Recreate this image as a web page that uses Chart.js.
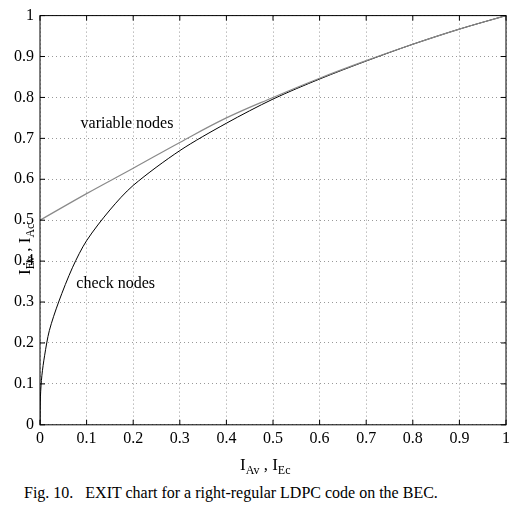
<!DOCTYPE html>
<html>
<head>
<meta charset="utf-8">
<script src="https://cdn.jsdelivr.net/npm/chart.js@4"></script>
<style>
  body { margin: 0; background: #fff; font-family: "Liberation Serif", serif; }
  #wrap { position: relative; width: 516px; height: 478px; }
  #cap { position: absolute; left: 24px; top: 484px; font-size: 16px; }
</style>
</head>
<body>
<div id="wrap"><canvas id="exit"></canvas></div>
<div id="cap">Fig. 10.&nbsp;&nbsp;&nbsp;EXIT chart for a right-regular LDPC code on the BEC.</div>
<script>
// values
const varX = [0, 0.1, 0.2, 0.3, 0.4, 0.5, 0.6, 0.7, 0.8, 0.9, 1];
const varY = [0.5, 0.565, 0.627, 0.69, 0.75, 0.8, 0.847, 0.89, 0.93, 0.967, 1];
const chkX = [0, 0.001, 0.004, 0.01, 0.02, 0.04, 0.07, 0.1, 0.15, 0.2, 0.3, 0.4, 0.5, 0.6, 0.7, 0.8, 0.9, 1];
const chkY = [0, 0.07, 0.12, 0.17, 0.23, 0.3, 0.385, 0.45, 0.525, 0.585, 0.67, 0.737, 0.796, 0.845, 0.889, 0.93, 0.967, 1];
const ticks = [0, 0.1, 0.2, 0.3, 0.4, 0.5, 0.6, 0.7, 0.8, 0.9, 1];

const FAM = "'Liberation Serif', serif";
const font = { family: FAM, size: 16 };

// frame, inner ticks, axis titles with subscripts and the curve labels
const decor = {
  id: 'decor',
  afterDraw(chart) {
    const { ctx, chartArea: a, scales: { x, y } } = chart;
    ctx.save();
    ctx.strokeStyle = '#000';
    ctx.lineWidth = 1;
    ctx.strokeRect(a.left, a.top, a.right - a.left, a.bottom - a.top);
    ticks.forEach(t => {
      const px = x.getPixelForValue(t), py = y.getPixelForValue(t);
      ctx.beginPath();
      ctx.moveTo(px, a.bottom); ctx.lineTo(px, a.bottom - 5);
      ctx.moveTo(px, a.top); ctx.lineTo(px, a.top + 5);
      ctx.moveTo(a.left, py); ctx.lineTo(a.left + 5, py);
      ctx.moveTo(a.right, py); ctx.lineTo(a.right - 5, py);
      ctx.stroke();
    });
    ctx.fillStyle = '#000';
    ctx.textBaseline = 'alphabetic';
    ctx.font = '16px ' + FAM;
    ctx.fillText('variable nodes', x.getPixelForValue(0.087), y.getPixelForValue(0.725));
    ctx.fillText('check nodes', x.getPixelForValue(0.078), y.getPixelForValue(0.335));
    const sub = (parts, sx, sy) => {
      let cx = sx;
      parts.forEach(([t, s]) => {
        ctx.font = (s ? '12px ' : '17px ') + FAM;
        ctx.fillText(t, cx, sy + (s ? 4 : 0));
        cx += ctx.measureText(t).width;
      });
    };
    sub([['I', 0], ['Av', 1], [' , I', 0], ['Ec', 1]], 240, 470);
    ctx.translate(30, 275);
    ctx.rotate(-Math.PI / 2);
    sub([['I', 0], ['Ev', 1], [' , I', 0], ['Ac', 1]], 0, 0);
    ctx.restore();
  }
};

function draw() {
  new Chart(document.getElementById('exit'), {
    type: 'scatter',
    data: {
      datasets: [
        { label: 'variable nodes', data: varX.map((v, i) => ({ x: v, y: varY[i] })),
          showLine: true, borderColor: '#8a8a8a', borderWidth: 1.2, pointRadius: 0, tension: 0.4 },
        { label: 'check nodes', data: chkX.map((v, i) => ({ x: v, y: chkY[i] })),
          showLine: true, borderColor: '#000', borderWidth: 1, pointRadius: 0, tension: 0.3 }
      ]
    },
    options: {
      responsive: true, maintainAspectRatio: false, animation: false,
      layout: { padding: { left: 0, right: 10, top: 2, bottom: 26 } },
      plugins: { legend: { display: false }, tooltip: { enabled: false } },
      scales: {
        x: { type: 'linear', min: 0, max: 1, afterBuildTicks: s => { s.ticks = ticks.map(v => ({ value: v })); },
          ticks: { color: '#000', font, padding: 4, maxRotation: 0, callback: v => String(v) },
          grid: { color: '#999', drawTicks: false }, border: { display: false, dash: [1, 3] } },
        y: { type: 'linear', min: 0, max: 1, afterBuildTicks: s => { s.ticks = ticks.map(v => ({ value: v })); },
          afterFit: s => { s.width = 40; },
          ticks: { color: '#000', font, padding: 6, callback: v => String(v) },
          grid: { color: '#999', drawTicks: false }, border: { display: false, dash: [1, 3] } }
      }
    },
    plugins: [decor]
  });
}
document.fonts.load('16px "Liberation Serif"').then(draw, draw);
</script>
</body>
</html>
